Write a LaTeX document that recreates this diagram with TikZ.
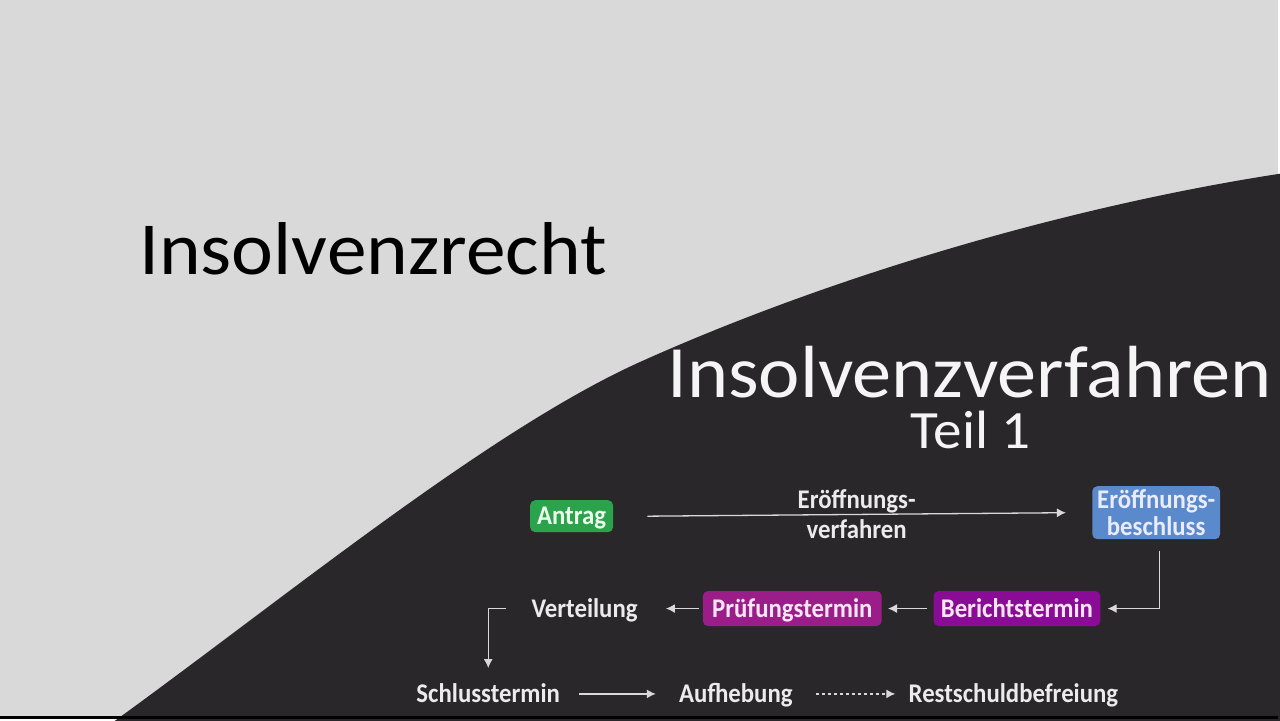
\documentclass[tikz,border=0pt]{standalone}
\usepackage{fontspec}
\setmainfont{Carlito}
\newfontfamily\stagefont[FakeStretch=0.92]{Carlito}
\newfontfamily\titlefont[FakeStretch=1.06]{Carlito}
\usetikzlibrary{arrows.meta}
\definecolor{slatebg}{HTML}{D9D9D9}
\definecolor{darkbg}{HTML}{2A272A}
\definecolor{antraggreen}{HTML}{2BA24C}
\definecolor{beschlussblue}{HTML}{5A8ACB}
\definecolor{pruefpurple}{HTML}{9B1D8A}
\definecolor{berichtpurple}{HTML}{8A0C96}
\definecolor{linegray}{HTML}{D9D9D9}
\begin{document}
\begin{tikzpicture}
[x=0.5pt,y=-0.5pt,
title/.style={inner sep=0pt,anchor=base},
stage/.style={rounded corners=2.5pt,inner xsep=2pt,inner ysep=1pt,text height=10pt,text depth=1.5pt,
  font=\stagefont\fontsize{13.5}{13.5}\selectfont\bfseries,align=center},
plain/.style={inner sep=0pt,text height=10pt,text depth=1.5pt,
  font=\stagefont\fontsize{13.5}{15}\selectfont\bfseries,text=white!92!black},
flow/.style={-{Latex[length=4.5pt,width=4.5pt]},linegray,line width=0.65pt},
flow_dashed/.style={flow,dash pattern=on 1.6pt off 1.4pt}]

%draw the background and the dark curved area
\fill[slatebg] (0,0) rectangle (1280,720);
\fill[darkbg] (115,722) .. controls (290,595) and (490,431) .. (640,363)
  .. controls (840,273) and (1080,205) .. (1282,174) -- (1282,722) -- cycle;
\fill[black] (0,717) rectangle (1280,720);

%draw the titles
\node[title,anchor=base west,font=\titlefont\fontsize{37.5}{37.5}\selectfont] (recht) at (139,275) {Insolvenzrecht};
\node[title,text=white!96!black,font=\titlefont\fontsize{37}{37}\selectfont] (verfahren) at (971,398) {Insolvenzverfahren};
\node[title,text=white!96!black,font=\titlefont\fontsize{27}{27}\selectfont] (teil) at (972,449) {Teil 1};

%draw the stages
\node[stage,fill=antraggreen,text=green!8!white,minimum width=41.5pt,minimum height=16pt] (antrag) at (572.5,517) {Antrag};
\node[stage,text height=,text depth=,fill=beschlussblue,text=blue!8!white,minimum width=64pt,minimum height=26.5pt] (beschluss) at (1158,513.5) {Eröffnungs-\\beschluss};
\node[stage,fill=berichtpurple,text=magenta!10!white,minimum width=83.5pt,minimum height=17.5pt] (bericht) at (1018.5,609.5) {Berichtstermin};
\node[stage,fill=pruefpurple,text=magenta!10!white,minimum width=89.5pt,minimum height=17.5pt] (pruef) at (793.5,609.5) {Prüfungstermin};
\node[plain] (vert) at (585.5,609.5) {Verteilung};
\node[plain] (schluss) at (489,695) {Schlusstermin};
\node[plain] (aufheb) at (737,695) {Aufhebung};
\node[plain] (rest) at (1015,695) {Restschuldbefreiung};

%draw the connectors
\draw[flow] ([xshift=17pt]antrag.east) -- ([xshift=-13pt]beschluss.west)
  node[midway,plain,text height=,text depth=,align=center] (eroeff) {Eröffnungs-\\verfahren};
\draw[flow] ([xshift=1.5pt,yshift=-5.5pt]beschluss.south) |- ([xshift=3.5pt]bericht.east);
\draw[flow] ([xshift=-3pt]bericht.west) -- ([xshift=3pt]pruef.east);
\draw[flow] ([xshift=-2pt]pruef.west) -- ([xshift=14pt]vert.east);
\draw[flow] ([xshift=-12.5pt]vert.west) -| ([yshift=7pt]schluss.north);
\draw[flow] ([xshift=9.5pt]schluss.east) -- ([xshift=-11.5pt]aufheb.west);
\draw[flow_dashed] ([xshift=11.5pt]aufheb.east) -- ([xshift=-6.5pt]rest.west);

\end{tikzpicture}
\end{document}
